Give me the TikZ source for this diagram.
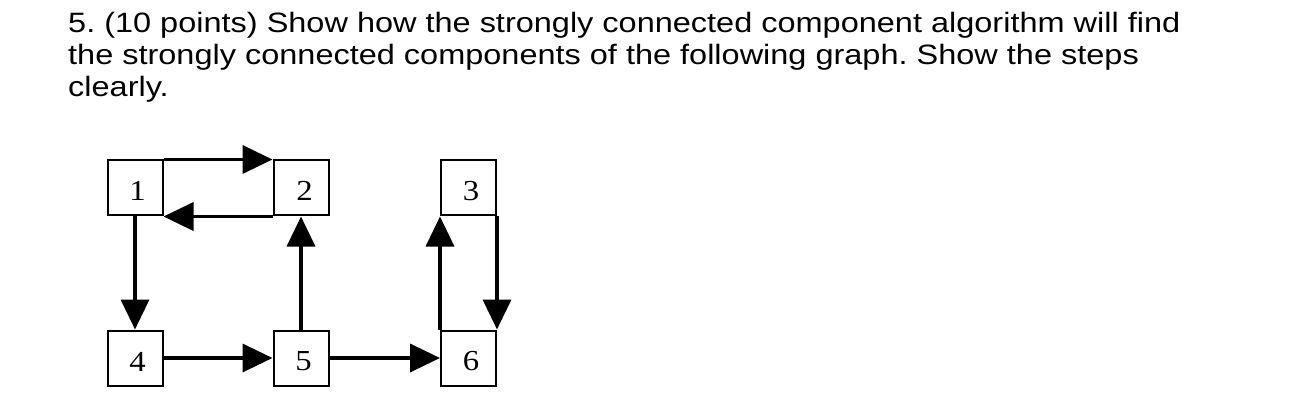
\documentclass[tikz,border=0pt]{standalone}
\usepackage{fontspec}
\setmainfont[FakeStretch=1.13]{Liberation Serif}
\newfontfamily\questfont[FakeStretch=1.16]{Liberation Sans}
\usetikzlibrary{arrows.meta}
\frenchspacing
\begin{document}
\begin{tikzpicture}
            [x=1pt,y=-1pt,
             vbox/.style={draw=black,line width=2pt,minimum size=55pt,inner sep=0pt,
                          font=\fontsize{29}{30}\selectfont,text height=26pt},
             edge/.style={line width=3.6pt,-{Triangle[length=30pt,width=28pt]}},
             qline/.style={anchor=base west,inner sep=0pt,font=\questfont\fontsize{28}{32}\selectfont}]
            \useasboundingbox (0,0) rectangle (1309,406);
            \node[qline] (l1) at (68,33) {5. (10 points) Show how the strongly connected component algorithm will find};
            \node[qline] (l2) at (68,65) {the strongly connected components of the following graph. Show the steps};
            \node[qline] (l3) at (68,97) {clearly.};

            \node[vbox] (n1) at (135,188) {\hspace*{5pt}1};
            \node[vbox] (n2) at (301,188) {\hspace*{7pt}2};
            \node[vbox] (n3) at (468.5,188) {\hspace*{5pt}3};
            \node[vbox] (n4) at (135,358) {\hspace*{5pt}4};
            \node[vbox] (n5) at (301,358) {\hspace*{5pt}5};
            \node[vbox] (n6) at (468.5,358) {\hspace*{5pt}6};

            \draw[edge] (n1.north east) -- (n2.north west);
            \draw[edge] (n2.south west) -- (n1.south east);
            \draw[edge] (n1.south) -- (n4.north);
            \draw[edge] (n5.north) -- (n2.south);
            \foreach \from/\to in {n4/n5, n5/n6} \draw[edge] (\from.east) -- (\to.west);
            \draw[edge] (n6.north west) -- (n3.south west);
            \draw[edge] (n3.south east) -- (n6.north east);
        \end{tikzpicture}
\end{document}
